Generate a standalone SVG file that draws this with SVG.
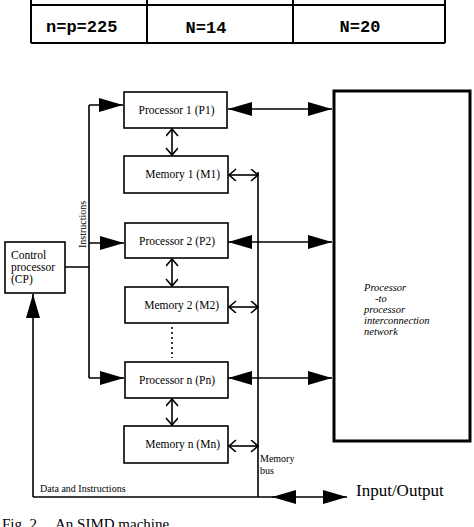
<svg xmlns="http://www.w3.org/2000/svg" width="474" height="527" viewBox="0 0 474 527">
<defs>
<style>
.box{fill:#fff;stroke:#000;stroke-width:1.6}
.ln{fill:none;stroke:#000;stroke-width:1.6}
.tl{fill:none;stroke:#000;stroke-width:2}
.lbl{font-family:"Liberation Serif",serif;font-size:11.5px;fill:#000}
.sm{font-family:"Liberation Serif",serif;font-size:10px;fill:#000}
.it{font-family:"Liberation Serif",serif;font-size:10.5px;font-style:italic;fill:#000}
.mono{font-family:"Liberation Mono",monospace;font-size:17px;font-weight:bold;fill:#000}
</style>
<marker id="tri" markerUnits="userSpaceOnUse" markerWidth="26" markerHeight="16" refX="24" refY="7" orient="auto-start-reverse">
<path d="M0,0 L24,7 L0,14 z" fill="#000"/>
</marker>
<marker id="chev" markerUnits="userSpaceOnUse" markerWidth="10" markerHeight="14" refX="8" refY="6" orient="auto-start-reverse">
<path d="M1,0 L8,6 L1,12" fill="none" stroke="#000" stroke-width="1.6"/>
</marker>
</defs>
<rect width="474" height="527" fill="#fff"/>

<g id="table">
<path class="tl" d="M31,0 V43 M147,0 V43 M293,0 V43 M445,0 V43 M31,5 H445 M31,43 H445"/>
<text class="mono" x="46" y="32">n=p=225</text>
<text class="mono" x="206" y="33" text-anchor="middle">N=14</text>
<text class="mono" x="360" y="32" text-anchor="middle">N=20</text>
</g>

<g id="connectors">
<!-- instructions bus -->
<path class="ln" d="M89,105 V378 M65,267 H89"/>
<line class="ln" x1="89" y1="105" x2="123" y2="105" marker-end="url(#tri)"/>
<line class="ln" x1="89" y1="243" x2="124" y2="243" marker-end="url(#tri)"/>
<line class="ln" x1="89" y1="378" x2="124" y2="378" marker-end="url(#tri)"/>
<!-- processor-memory -->
<line class="ln" x1="172" y1="129" x2="172" y2="155" marker-start="url(#chev)" marker-end="url(#chev)"/>
<line class="ln" x1="172" y1="259" x2="172" y2="286" marker-start="url(#chev)" marker-end="url(#chev)"/>
<line class="ln" x1="172" y1="399" x2="172" y2="425" marker-start="url(#chev)" marker-end="url(#chev)"/>
<line x1="172" y1="327" x2="172" y2="358" stroke="#000" stroke-width="1.6" stroke-dasharray="2,3"/>
<!-- memory bus -->
<path class="ln" d="M258,172 V497"/>
<line class="ln" x1="229" y1="175" x2="258" y2="175" marker-start="url(#chev)" marker-end="url(#chev)"/>
<line class="ln" x1="229" y1="307" x2="258" y2="307" marker-start="url(#chev)" marker-end="url(#chev)"/>
<line class="ln" x1="229" y1="446" x2="258" y2="446" marker-start="url(#chev)" marker-end="url(#chev)"/>
<!-- processor-network -->
<line class="ln" x1="228" y1="109" x2="332" y2="109" marker-start="url(#tri)" marker-end="url(#tri)"/>
<line class="ln" x1="228" y1="242" x2="332" y2="242" marker-start="url(#tri)" marker-end="url(#tri)"/>
<line class="ln" x1="228" y1="378" x2="332" y2="378" marker-start="url(#tri)" marker-end="url(#tri)"/>
<!-- data and instructions -->
<path class="ln" d="M33,497 H273"/>
<line class="ln" x1="33" y1="497" x2="33" y2="294" marker-end="url(#tri)"/>
<line class="ln" x1="272" y1="497" x2="347" y2="497" marker-start="url(#tri)" marker-end="url(#tri)"/>
</g>

<g id="cp">
<rect class="box" x="5" y="242" width="60" height="51"/>
<text class="lbl" x="11" y="259">Control</text>
<text class="lbl" x="11" y="271">processor</text>
<text class="lbl" x="11" y="283">(CP)</text>
</g>
<g id="p1">
<rect class="box" x="124" y="92" width="103" height="36"/>
<text class="lbl" x="176.5" y="114" text-anchor="middle">Processor 1 (P1)</text>
</g>
<g id="m1">
<rect class="box" x="124" y="156" width="104" height="37"/>
<text class="lbl" x="220" y="178" text-anchor="end">Memory 1 (M1)</text>
</g>
<g id="p2">
<rect class="box" x="125" y="223" width="103" height="35"/>
<text class="lbl" x="177" y="245" text-anchor="middle">Processor 2 (P2)</text>
</g>
<g id="m2">
<rect class="box" x="125" y="287" width="103" height="36"/>
<text class="lbl" x="219" y="309" text-anchor="end">Memory 2 (M2)</text>
</g>
<g id="pn">
<rect class="box" x="125" y="362" width="103" height="36"/>
<text class="lbl" x="177" y="384" text-anchor="middle">Processor n (Pn)</text>
</g>
<g id="mn">
<rect class="box" x="124" y="426" width="104" height="37"/>
<text class="lbl" x="220" y="448" text-anchor="end">Memory n (Mn)</text>
</g>
<g id="network">
<rect x="334" y="91" width="136" height="350" fill="#fff" stroke="#000" stroke-width="3"/>
<text class="it" x="364" y="291">Processor</text>
<text class="it" x="375" y="302">-to</text>
<text class="it" x="364" y="313">processor</text>
<text class="it" x="364" y="324">interconnection</text>
<text class="it" x="364" y="335">network</text>
</g>

<g id="labels">
<text class="sm" x="86" y="248" transform="rotate(-90 86 248)" font-size="11">Instructions</text>
<text class="sm" x="260" y="462">Memory</text>
<text class="sm" x="260" y="474">bus</text>
<text class="sm" x="40" y="492">Data and Instructions</text>
<text x="356" y="496" font-family="Liberation Serif, serif" font-size="17" fill="#000">Input/Output</text>
<text font-family="Liberation Serif, serif" font-size="15" fill="#000" y="529"><tspan x="2">Fig. 2</tspan><tspan x="55">An SIMD machine</tspan></text>
</g>
</svg>
